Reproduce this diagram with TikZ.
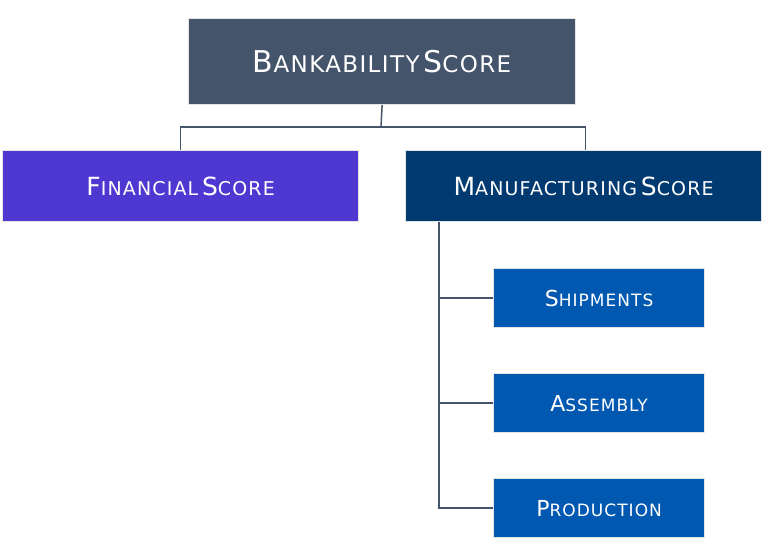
\documentclass[tikz,border=0pt]{standalone}
\usepackage{fontspec}
\setmainfont{DejaVu Sans}[LetterSpace=6]
\usetikzlibrary{positioning}
\definecolor{slate}{HTML}{44546A}
\definecolor{violetbox}{HTML}{4F38D2}
\definecolor{navybox}{HTML}{003A70}
\definecolor{bluebox}{HTML}{0058B0}
\definecolor{linegray}{HTML}{44546A}
% first letter big, rest as small capitals
\newcommand{\capword}[4]{{\fontsize{#1}{#1}\selectfont #3}{\fontsize{#2}{#1}\selectfont\MakeUppercase{#4}}}
\begin{document}
\begin{tikzpicture}[x=1pt,y=-1pt,
    box/.style={draw=gray!20,line width=1.2pt,text=white,inner sep=0pt,anchor=north west},
    link/.style={draw=linegray,line width=1.5pt}]
    \useasboundingbox (0,0) rectangle (768,556);

    \node[box,fill=slate,minimum width=387pt,minimum height=86pt] (bank) at (188,18)
        {\capword{30}{23}{B}{ankability} \capword{30}{23}{S}{core}};
    \node[box,fill=violetbox,minimum width=356pt,minimum height=71pt] (fin) at (2,150)
        {\capword{25}{19}{F}{inancial} \capword{25}{19}{S}{core}};
    \node[box,fill=navybox,minimum width=356pt,minimum height=71pt] (manu) at (405,150)
        {\capword{25}{19}{M}{anufacturing} \capword{25}{19}{S}{core}};

    \foreach \y/\name/\first/\rest in {268/ship/S/hipments, 373/asm/A/ssembly, 478/prod/P/roduction} {
        \node[box,fill=bluebox,minimum width=211pt,minimum height=59pt] (\name) at (493,\y)
            {\capword{22}{17}{\first}{\rest}};
    }

    %tree links
    \coordinate (fork) at (381,127);
    \draw[link] (bank.south) -- (fork);
    \draw[link] (fin.north) |- (fork) -| ([xshift=2pt]manu.north);
    \coordinate (trunk) at ([xshift=34pt]manu.south west);
    \draw[link] (trunk) |- (prod.west);
    \draw[link] (ship.west) -- (ship.west -| trunk);
    \draw[link] (asm.west) -- (asm.west -| trunk);
\end{tikzpicture}
\end{document}
